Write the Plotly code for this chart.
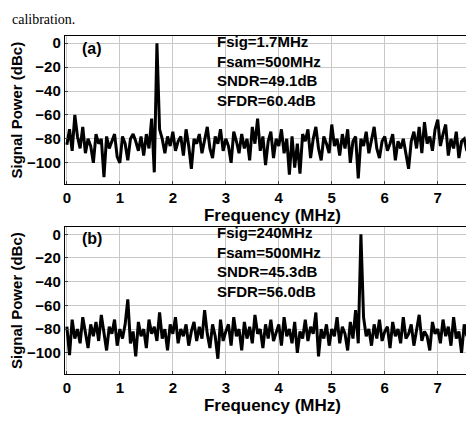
import numpy as np
import plotly.graph_objects as go

freq = np.round(np.arange(0, 7.8001, 0.05), 2)
power_a = [-85,-72,-90,-60,-78,-88,-70,-92,-80,-86,
 -100,-76,-84,-80,-112,-78,-88,-82,-76,-95,
 -100,-78,-84,-98,-80,-76,-82,-90,-78,-94,
 -76,-88,-63,-108,0,-72,-80,-92,-78,-86,
 -74,-90,-82,-78,-94,-72,-86,-105,-80,-84,
 -76,-92,-80,-70,-88,-96,-78,-84,-72,-90,
 -80,-86,-100,-74,-82,-92,-76,-88,-80,-98,
 -70,-84,-63,-90,-78,-102,-82,-74,-96,-80,
 -86,-72,-92,-80,-110,-78,-104,-84,-109,-76,
 -82,-72,-96,-80,-70,-88,-98,-78,-84,-92,
 -68,-86,-80,-94,-76,-88,-72,-100,-82,-78,
 -113,-80,-86,-74,-92,-80,-70,-88,-96,-82,
 -78,-90,-84,-76,-98,-82,-88,-80,-94,-105,
 -82,-74,-88,-70,-92,-66,-84,-78,-90,-72,
 -64,-86,-76,-68,-94,-80,-88,-74,-96,-82,
 -80,-90,-78,-84,-76,-92,-82]
power_b = [-78,-102,-72,-88,-80,-92,-70,-84,-96,-76,
 -86,-74,-90,-68,-82,-98,-78,-84,-72,-94,
 -80,-88,-76,-55,-92,-82,-103,-74,-86,-80,
 -96,-72,-84,-78,-90,-66,-88,-80,-98,-76,
 -84,-70,-92,-80,-86,-76,-94,-82,-74,-90,
 -78,-88,-64,-84,-96,-76,-86,-105,-72,-90,
 -82,-76,-94,-70,-86,-80,-98,-74,-88,-78,
 -92,-68,-84,-80,-96,-76,-88,-72,-90,-82,
 -76,-94,-70,-86,-80,-92,-74,-100,-82,-88,
 -72,-90,-78,-84,-66,-103,-80,-88,-76,-94,
 -80,-86,-70,-92,-78,-84,-98,-74,-88,-64,
 -92,0,-70,-86,-80,-94,-76,-88,-72,-90,
 -82,-78,-96,-74,-86,-80,-92,-70,-88,-84,
 -76,-94,-80,-68,-90,-82,-86,-98,-74,-84,
 -80,-92,-72,-86,-78,-94,-70,-88,-82,-100,
 -76,-86,-80,-92,-74,-84,-80]
labels_a = ["Fsig=1.7MHz", "Fsam=500MHz", "SNDR=49.1dB", "SFDR=60.4dB"]
labels_b = ["Fsig=240MHz", "Fsam=500MHz", "SNDR=45.3dB", "SFDR=56.0dB"]
xticks = [0, 1, 2, 3, 4, 5, 6, 7]
yticks = [0, -20, -40, -60, -80, -100]

F = "Liberation Sans"
fig = go.Figure()
fig.add_trace(go.Scatter(x=freq, y=power_a, mode="lines", line=dict(color="black", width=3), xaxis="x", yaxis="y"))
fig.add_trace(go.Scatter(x=freq, y=power_b, mode="lines", line=dict(color="black", width=3), xaxis="x2", yaxis="y2"))

ax = dict(range=[-0.04, 7.8], tickvals=xticks, showgrid=True, gridcolor="#c8c8c8", linecolor="black",
          mirror=True, showline=True, ticks="inside", ticklen=3, zeroline=False,
          tickfont=dict(family=F, size=15, color="black", weight="bold"),
          title=dict(text="<b>Frequency (MHz)</b>", font=dict(family=F, size=17, color="black"), standoff=0))
ay = dict(range=[-118, 6], tickvals=yticks, showgrid=True, gridcolor="#c8c8c8", linecolor="black",
          mirror=True, showline=True, ticks="inside", ticklen=3, zeroline=False,
          tickfont=dict(family=F, size=15, color="black", weight="bold"),
          title=dict(text="<b>Signal Power (dBc)</b>", font=dict(family=F, size=15, color="black"), standoff=2))
fig.update_layout(
    width=474, height=422, margin=dict(l=0, r=0, t=0, b=0), showlegend=False,
    plot_bgcolor="white", paper_bgcolor="white",
    xaxis=dict(ax, domain=[0.116, 0.996], anchor="y"),
    yaxis=dict(ay, domain=[0.585, 0.938], anchor="x"),
    xaxis2=dict(ax, domain=[0.116, 0.996], anchor="y2"),
    yaxis2=dict(ay, domain=[0.133, 0.483], anchor="x2"),
)
ann = [dict(xref="paper", yref="paper", x=0.0, y=1.0, xanchor="left", yanchor="top", showarrow=False,
            text="calibration.", font=dict(family="Liberation Serif", size=14, color="black"))]
for xa, ya, lab, labs in [("x", "y", "(a)", labels_a), ("x2", "y2", "(b)", labels_b)]:
    ann.append(dict(xref=xa, yref=ya, x=0.25, y=-4, xanchor="left", showarrow=False,
                    text="<b>" + lab + "</b>", font=dict(family=F, size=16, color="black")))
    ann.append(dict(xref=xa, yref=ya, x=2.8, y=-23, xanchor="left", yanchor="middle", showarrow=False, align="left",
                    text="<br>".join("<b>" + s + "</b>" for s in labs), font=dict(family=F, size=15, color="black")))
fig.update_layout(annotations=ann)
fig.write_html("out.html")
